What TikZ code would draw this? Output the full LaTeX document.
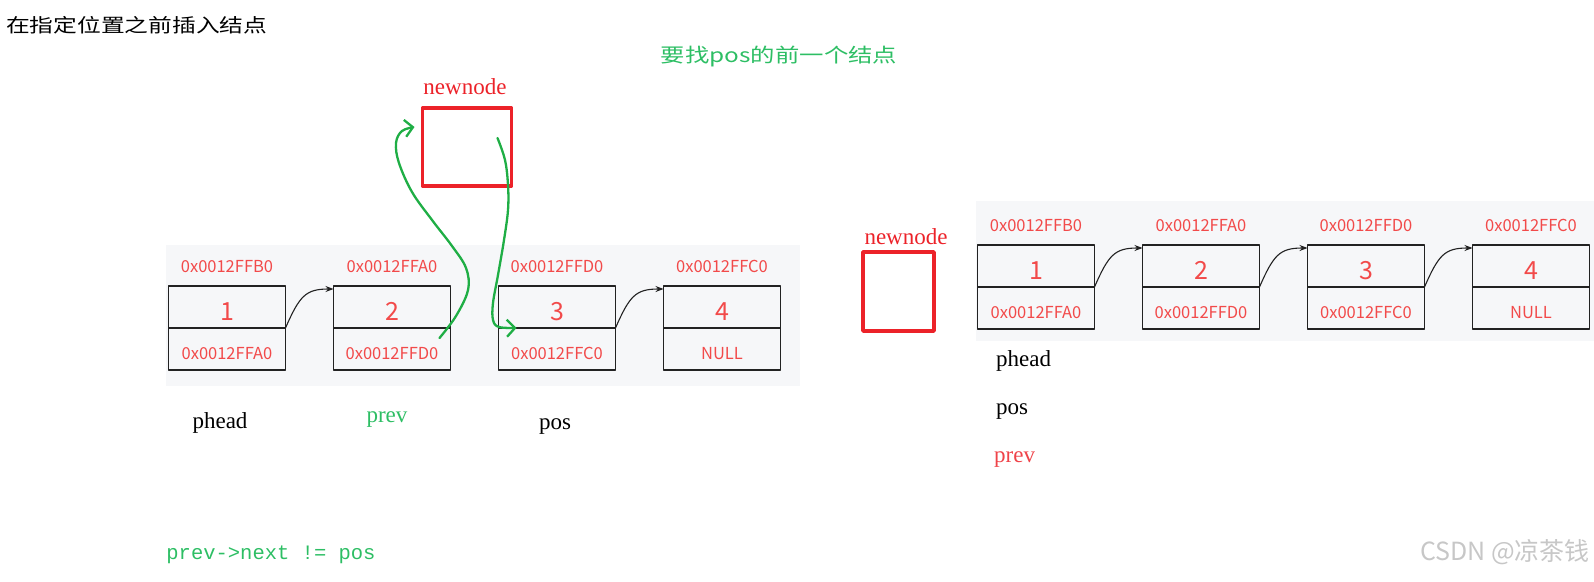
\documentclass[tikz,border=0pt]{standalone}
\usepackage{fontspec}
\setmainfont{Liberation Serif}
\newfontfamily\cjk{Noto Sans CJK SC}
\newfontfamily\cjkwide[FakeStretch=1.25]{Noto Sans CJK SC}
\newfontfamily\codefont{Liberation Mono}
\usetikzlibrary{arrows.meta,positioning,calc}
\definecolor{boxred}{HTML}{F24A4A}
\definecolor{penred}{HTML}{EC2229}
\definecolor{pengreen}{HTML}{1FAE45}
\definecolor{txtgreen}{HTML}{2DBE64}
\definecolor{panel}{HTML}{F6F7F9}
\definecolor{ink}{HTML}{222222}
\tikzset{
    every picture/.style={line cap=round,line join=round},
    cellbox/.style={draw=ink,line width=1.3pt,minimum width=117pt,
      minimum height=42pt,inner sep=0pt,outer sep=0pt,text=boxred},
    numcell/.style={cellbox,font=\cjk\fontsize{25}{25}\selectfont,
      text height=26pt,text depth=0pt},
    addrcell/.style={cellbox,font=\cjk\fontsize{16.5}{17}\selectfont,
      text height=20pt,text depth=0pt},
    addrlabel/.style={inner sep=0pt,text=boxred,font=\cjk\fontsize{16.5}{17}\selectfont},
    linkarrow/.style={-{Stealth[length=8pt,width=6pt]},draw=ink,line width=1.1pt},
    newbox/.style={draw=penred,line width=3.5pt,inner sep=0pt,outer sep=0pt},
    greenpen/.style={draw=pengreen,line width=2.3pt,
      -{Straight Barb[length=8pt,width=17pt,line width=2.3pt]}},
    varname/.style={inner sep=0pt,font=\fontsize{23}{23}\selectfont}
}
\begin{document}
\begin{tikzpicture}[x=1pt,y=-1pt]
  \useasboundingbox (0,0) rectangle (1594,581);
  \fill[panel] (166,245) rectangle (800,386);
  \fill[panel] (976,201) rectangle (1594,341);

  % list before the insert
  \node[numcell] (a1) at (227,307) {1};
  \node[addrcell,below=0pt of a1] (a1p) {0x0012FFA0};
  \node[numcell,right=48pt of a1] (a2) {2};
  \node[addrcell,below=0pt of a2] (a2p) {0x0012FFD0};
  \node[numcell,right=48pt of a2] (a3) {3};
  \node[addrcell,below=0pt of a3] (a3p) {0x0012FFC0};
  \node[numcell,right=48pt of a3] (a4) {4};
  \node[addrcell,below=0pt of a4] (a4p) {NULL};
  \node[addrlabel,above=13pt of a1] {0x0012FFB0};
  \node[addrlabel,above=13pt of a2] {0x0012FFA0};
  \node[addrlabel,above=13pt of a3] {0x0012FFD0};
  \node[addrlabel,above=13pt of a4] {0x0012FFC0};
  \draw[linkarrow] (a1.south east) .. controls +(14,-32) and +(-28,0) .. ($(a2.north west)+(0,3)$);
  \draw[linkarrow] (a3.south east) .. controls +(14,-32) and +(-28,0) .. ($(a4.north west)+(0,3)$);

  % the new node and how it is hooked in
  \node[newbox,minimum width=89pt,minimum height=78pt] (n1) at (467,147) {};
  \node[varname,text=penred] at (465,87) {newnode};
  \coordinate (gA) at ($(a2p.north east)+(-11,10)$);
  \coordinate (gB) at ($(n1.east)+(-14,-9)$);
  \draw[greenpen] plot[smooth,tension=0.6] coordinates {(gA) (456,316) (468,290)
    (466,268) (452,246) (432,220) (412,192) (399,163) (396,143) (402,131)
    ($(n1.north west)+(-8,19)$)};
  \draw[greenpen] plot[smooth,tension=0.6] coordinates {(gB) (505,160) (508,185)
    (508,210) (504,240) (498,275) (493,303) (493,320) (499,327)
    ($(a3.south west)+(18,0)$)};

  \node[varname] at (220,423) {phead};
  \node[varname,text=txtgreen] at (387,420) {prev};
  \node[varname] at (555,427) {pos};
  \node[inner sep=0pt,text=txtgreen,font=\codefont\fontsize{20.5}{21}\selectfont] (cond) at (271,555) {prev->next != pos};

  % list after the insert
  \node[newbox,minimum width=71pt,minimum height=79pt] (n2) at (898.5,291.5) {};
  \node[varname,text=penred] at (906,237) {newnode};
  \node[numcell] (b1) at (1036,266) {1};
  \node[addrcell,below=0pt of b1] (b1p) {0x0012FFA0};
  \node[numcell,right=48pt of b1] (b2) {2};
  \node[addrcell,below=0pt of b2] (b2p) {0x0012FFD0};
  \node[numcell,right=48pt of b2] (b3) {3};
  \node[addrcell,below=0pt of b3] (b3p) {0x0012FFC0};
  \node[numcell,right=48pt of b3] (b4) {4};
  \node[addrcell,below=0pt of b4] (b4p) {NULL};
  \node[addrlabel,above=13pt of b1] {0x0012FFB0};
  \node[addrlabel,above=13pt of b2] {0x0012FFA0};
  \node[addrlabel,above=13pt of b3] {0x0012FFD0};
  \node[addrlabel,above=13pt of b4] {0x0012FFC0};
  \draw[linkarrow] (b1.south east) .. controls +(14,-32) and +(-28,0) .. ($(b2.north west)+(0,3)$);
  \draw[linkarrow] (b2.south east) .. controls +(14,-32) and +(-28,0) .. ($(b3.north west)+(0,3)$);
  \draw[linkarrow] (b3.south east) .. controls +(14,-32) and +(-28,0) .. ($(b4.north west)+(0,3)$);
  \node[varname,anchor=west] at (996,361) {phead};
  \node[varname,anchor=west] at (996,412) {pos};
  \node[varname,anchor=west,text=penred!85] at (994,460) {prev};

  \node[inner sep=0pt,anchor=west,font=\cjkwide\fontsize{19}{19}\selectfont] (title) at (6,25) {在指定位置之前插入结点};
  \node[inner sep=0pt,text=txtgreen,font=\cjkwide\fontsize{19.5}{20}\selectfont] (hint) at (779,56) {要找pos的前一个结点};
  \node[inner sep=0pt,anchor=east,text=black!22,font=\cjk\fontsize{25}{25}\selectfont] (mark) at (1590,552) {CSDN @凉茶钱};
\end{tikzpicture}
\end{document}
